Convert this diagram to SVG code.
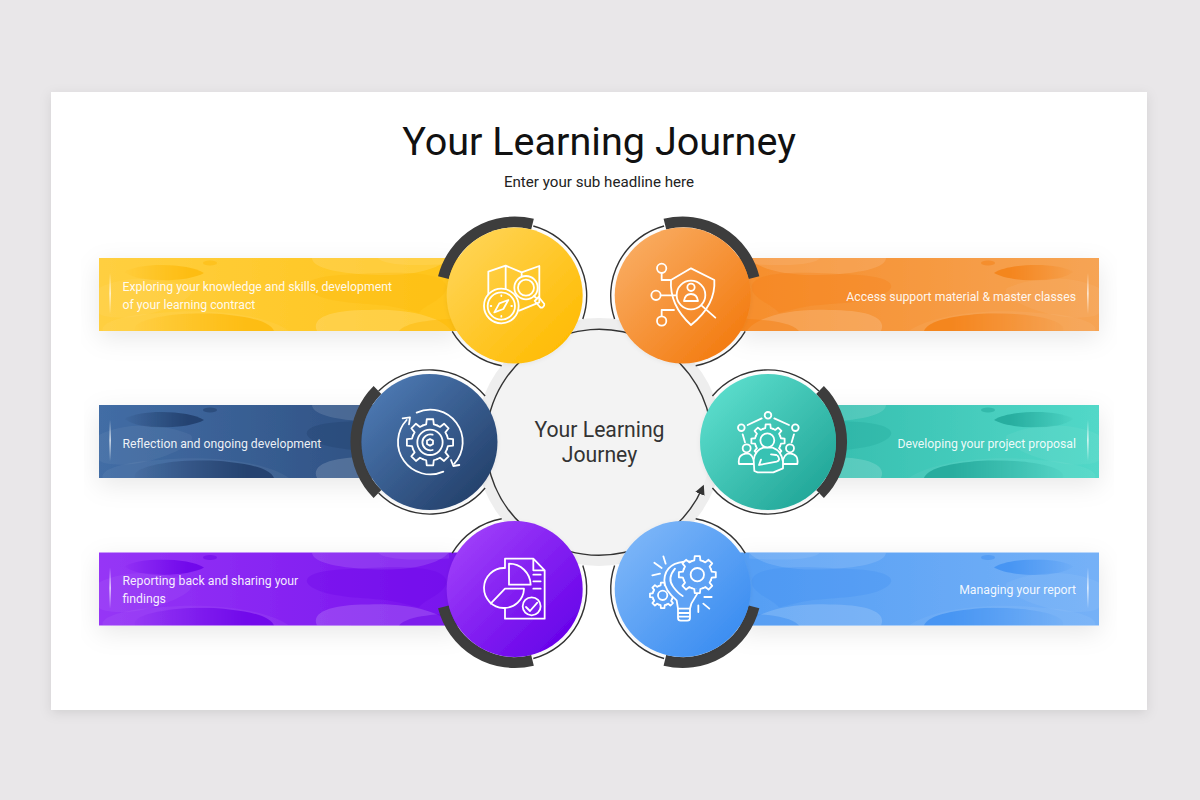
<svg xmlns="http://www.w3.org/2000/svg" xmlns:xlink="http://www.w3.org/1999/xlink" width="1200" height="800" viewBox="0 0 1200 800">
<style>
text{font-family:Roboto,"Liberation Sans",sans-serif}
.t{font-size:12.25px;fill:#fff;fill-opacity:.92}
.e{text-anchor:end}
.ic{fill:none;stroke:#fff;stroke-width:1.8;stroke-linecap:round;stroke-linejoin:round}
.ic *,.ng,.ng *{vector-effect:non-scaling-stroke}
.thin{fill:none;stroke:#333;stroke-width:1.4}
.thick{fill:none;stroke:#3d3d3d;stroke-width:11}
.lt{fill:#fff}
.dk{fill:currentColor}
</style>
<defs>
<filter id="cardS" x="-5%" y="-5%" width="110%" height="110%"><feDropShadow dx="0" dy="3" stdDeviation="6" flood-color="#000" flood-opacity=".1"/></filter>
<filter id="banS" x="-5%" y="-60%" width="110%" height="230%"><feDropShadow dx="0" dy="7" stdDeviation="12" flood-color="#000" flood-opacity=".09"/></filter>
<filter id="cS" x="-20%" y="-20%" width="140%" height="140%"><feDropShadow dx="0" dy="1" stdDeviation="2" flood-color="#000" flood-opacity=".06"/></filter>
<linearGradient id="fadeG"><stop offset="0" stop-color="#fff" stop-opacity=".05"/><stop offset=".8" stop-color="#fff" stop-opacity=".8"/></linearGradient>
<mask id="fade" maskContentUnits="objectBoundingBox"><rect width="1" height="1" fill="url(#fadeG)"/></mask>
<linearGradient id="vl" x1="0" y1="0" x2="0" y2="1"><stop offset="0" stop-color="#fff" stop-opacity="0"/><stop offset=".5" stop-color="#fff"/><stop offset="1" stop-color="#fff" stop-opacity="0"/></linearGradient>
<clipPath id="bc"><rect width="1000" height="73"/></clipPath>
<linearGradient id="gY" x1="0" y1="0" x2="1" y2="1"><stop offset=".1" stop-color="#ffd455"/><stop offset=".9" stop-color="#ffbb00"/></linearGradient>
<linearGradient id="gO" x1="0" y1="0" x2="1" y2="1"><stop offset=".1" stop-color="#f9ac62"/><stop offset=".9" stop-color="#f37a0e"/></linearGradient>
<linearGradient id="gN" x1="0" y1="0" x2="1" y2="1"><stop offset=".1" stop-color="#4c79b3"/><stop offset=".9" stop-color="#233f69"/></linearGradient>
<linearGradient id="gT" x1="0" y1="0" x2="1" y2="1"><stop offset=".1" stop-color="#5cdecd"/><stop offset=".9" stop-color="#20a597"/></linearGradient>
<linearGradient id="gP" x1="0" y1="0" x2="1" y2="1"><stop offset=".1" stop-color="#a040fa"/><stop offset=".9" stop-color="#6600e9"/></linearGradient>
<linearGradient id="gB" x1="0" y1="0" x2="1" y2="1"><stop offset=".1" stop-color="#7db6f8"/><stop offset=".9" stop-color="#398cf1"/></linearGradient>
<linearGradient id="bY" x1="0" y1="0" x2="1" y2="0"><stop offset="0" stop-color="#ffcf40"/><stop offset="1" stop-color="#ffc41a"/></linearGradient>
<linearGradient id="bO" x1="1" y1="0" x2="0" y2="0"><stop offset="0" stop-color="#f6a454"/><stop offset="1" stop-color="#f68e2c"/></linearGradient>
<linearGradient id="bN" x1="0" y1="0" x2="1" y2="0"><stop offset="0" stop-color="#426da5"/><stop offset="1" stop-color="#2e4f80"/></linearGradient>
<linearGradient id="bT" x1="1" y1="0" x2="0" y2="0"><stop offset="0" stop-color="#52d8c8"/><stop offset="1" stop-color="#34bcad"/></linearGradient>
<linearGradient id="bP" x1="0" y1="0" x2="1" y2="0"><stop offset="0" stop-color="#9636f6"/><stop offset="1" stop-color="#7812ee"/></linearGradient>
<linearGradient id="bB" x1="1" y1="0" x2="0" y2="0"><stop offset="0" stop-color="#75b1f7"/><stop offset="1" stop-color="#559ef4"/></linearGradient>
<g id="blobs" clip-path="url(#bc)">
<path class="lt" opacity=".05" d="M0 30C30 15 70 20 92 30C100 40 60 55 40 58C20 62 0 58 0 55Z"/>
<path class="lt" opacity=".12" d="M213 0C213 10 240 16 280 17C310 18 340 12 350 0Z"/>
<path class="lt" opacity=".08" d="M279 0C285 8 320 8 350 6V0Z"/>
<path class="dk" opacity=".3" d="M240 17C280 15 340 10 347 27C350 40 325 47 320 55L300 50C280 45 250 47 225 40C200 32 200 20 240 17Z"/>
<path class="lt" opacity=".16" d="M218 73C212 60 230 52 270 52C310 50 345 60 352 73Z"/>
<path class="dk" opacity=".5" d="M300 73C310 62 340 62 365 60V73Z"/>
<path class="dk" mask="url(#fade)" d="M26 14C40 4 90 5 105 15C90 24 40 26 26 14Z"/>
<ellipse class="dk" opacity=".5" cx="111" cy="5" rx="7" ry="2.5"/>
<path class="lt" opacity=".05" d="M4 73C0 66 20 57 60 55C110 50 165 56 190 73Z"/>
<path class="dk" mask="url(#fade)" d="M36 73C30 58 100 52 130 57C160 60 172 66 175 73Z"/>
<rect x="10.5" y="15" width="1.2" height="41" fill="url(#vl)"/>
</g>
<g id="ringA"><path class="thin" d="M18.6 -69.5A72 72 0 0 1 68.1 23.4"/><path class="thin" d="M-13 70.2A72 72 0 0 1 -62.5 35.8"/><path class="thick" d="M-71.3 -17.9A73.5 73.5 0 0 1 17.8 -71.3"/></g>
<g id="ringB"><path class="thin" d="M-50.9 -50.9A72 72 0 0 1 55.6 -46"/><path class="thin" d="M55.6 46A72 72 0 0 1 -50.9 50.9"/><path class="thick" d="M-52 -52A73.5 73.5 0 0 0 -52 52"/></g>
<path id="tooth" class="ng" d="M-21 -50.8L-11.4 -53.8L-9.7 -69.3L9.7 -69.3L11.4 -53.8L21 -50.8"/>
<g id="gear" class="ng"><circle r="52" stroke="none"/><use href="#tooth"/><use href="#tooth" transform="rotate(45)"/><use href="#tooth" transform="rotate(90)"/><use href="#tooth" transform="rotate(135)"/><use href="#tooth" transform="rotate(180)"/><use href="#tooth" transform="rotate(225)"/><use href="#tooth" transform="rotate(270)"/><use href="#tooth" transform="rotate(315)"/></g>
<marker id="arrow" markerUnits="userSpaceOnUse" markerWidth="12" markerHeight="12" refX="8" refY="5" orient="auto"><path d="M0 0L10 5L0 10Z" fill="#333"/></marker>
</defs>

<rect width="1200" height="800" fill="#e9e7e9"/>
<rect x="51" y="92" width="1096" height="618" fill="#fff" filter="url(#cardS)"/>
<text x="599" y="155" font-size="39.6" text-anchor="middle" fill="#111">Your Learning Journey</text>
<text x="599" y="187" font-size="15.15" text-anchor="middle" fill="#222">Enter your sub headline here</text>

<g id="node-center">
<circle cx="599" cy="442" r="124" fill="#eeeeee"/>
<circle cx="599" cy="442" r="113" fill="#f3f3f3"/>
<text x="599.5" y="437" font-size="21.2" text-anchor="middle" fill="#333">Your Learning</text>
<text x="599.5" y="462" font-size="21.2" text-anchor="middle" fill="#333">Journey</text>
</g>

<g id="connectors">
<path class="thin" marker-end="url(#arrow)" d="M709.8 420A113 113 0 1 0 703 486.5"/>
</g>

<g id="node-1">
<rect x="99" y="258" width="360" height="73" fill="url(#bY)" filter="url(#banS)"/>
<use href="#blobs" transform="translate(99 258)" style="color:#fdb90a"/>
<use href="#ringA" transform="translate(514.7 295.5)"/>
<circle cx="514.7" cy="295.5" r="68" fill="url(#gY)" filter="url(#cS)"/>
<g class="ic" transform="translate(440 215) scale(.3333)">
<path d="M145 245V170L197 152L245 172L298 153V262L238 287M197 152V228M245 172V190"/>
<circle cx="258" cy="218" r="35" fill="#ffc82c"/><circle cx="258" cy="218" r="24"/>
<path d="M282 243L290 250M284 258L296 246L313 267Q314 272 308 277Q303 279 300 276Z"/>
<circle cx="184" cy="273" r="52" fill="#ffc625"/><circle cx="184" cy="273" r="41"/>
<path d="M205 255L190 282L163 292L178 265Z"/>
<path d="M184 241V243M184 303V305M152 273H154M214 273H216"/>
</g>
<text class="t" x="122.5" y="291">Exploring your knowledge and skills, development</text>
<text class="t" x="122.5" y="309.3">of your learning contract</text>
</g>

<g id="node-2">
<rect x="739" y="258" width="360" height="73" fill="url(#bO)" filter="url(#banS)"/>
<use href="#blobs" transform="translate(1099 258) scale(-1 1)" style="color:#f47f13"/>
<use href="#ringA" transform="translate(682.7 295.5) scale(-1 1)"/>
<circle cx="682.7" cy="295.5" r="68" fill="url(#gO)" filter="url(#cS)"/>
<g class="ic" transform="translate(610 215) scale(.3333)">
<circle cx="155" cy="160" r="14"/><circle cx="138" cy="241" r="14"/><circle cx="155" cy="318" r="14"/>
<path d="M155 175V195H182M152 241H198M155 303V285H192"/>
<path d="M243 160L183 195Q178 270 243 330Q318 270 313 195Z"/>
<circle cx="243" cy="240" r="43" fill="#f69237"/>
<circle cx="243" cy="217" r="11"/><path d="M222 258Q225 237 243 237Q261 237 264 258Z"/>
<path d="M275 272L316 308"/>
</g>
<text class="t e" x="1076" y="300.5">Access support material &amp; master classes</text>
</g>

<g id="node-3">
<rect x="99" y="405" width="300" height="73" fill="url(#bN)" filter="url(#banS)"/>
<use href="#blobs" transform="translate(99 405)" style="color:#1e3a66"/>
<use href="#ringB" transform="translate(429.5 442)"/>
<circle cx="429.5" cy="442" r="68" fill="url(#gN)" filter="url(#cS)"/>
<g class="ic" transform="translate(350 365) scale(.3333)">
<use href="#gear" transform="translate(240 232)"/>
<circle cx="240" cy="232" r="38"/><path d="M248 209A24 24 0 1 0 248 255"/>
<path d="M240 222L249 227V237L240 242L231 237V227Z"/>
<path d="M200 143A97 97 0 0 1 313 296M303 285L310 303L328 300"/>
<path d="M280 320A97 97 0 0 1 170 165M158 160L180 157L177 178"/>
</g>
<text class="t" x="122.5" y="447.5">Reflection and ongoing development</text>
</g>

<g id="node-4">
<rect x="799" y="405" width="300" height="73" fill="url(#bT)" filter="url(#banS)"/>
<use href="#blobs" transform="translate(1099 405) scale(-1 1)" style="color:#1fa597"/>
<use href="#ringB" transform="translate(768 442) scale(-1 1)"/>
<circle cx="768" cy="442" r="68" fill="url(#gT)" filter="url(#cS)"/>
<g class="ic" transform="translate(695 365) scale(.3333)">
<circle cx="219" cy="151" r="10"/><circle cx="139" cy="188" r="10"/><circle cx="301" cy="188" r="10"/>
<path d="M158 180L200 160M238 160L282 180M143 208L150 232M297 208L290 232"/>
<use href="#gear" transform="translate(219 228) scale(.72)" fill="#3ac5b6"/>
<circle cx="155" cy="250" r="12"/><circle cx="285" cy="250" r="12"/>
<path fill="#3ac5b6" d="M178 297H132Q127 268 155 265Q175 265 178 297ZM262 297H307Q312 268 285 265Q265 265 262 297Z"/>
<path fill="#37c2b3" d="M178 318L176 285Q180 255 205 248H233Q260 258 264 290V310L235 322L188 322Z"/>
<circle cx="217" cy="226" r="21" fill="#39c4b5"/>
<path d="M192 300L198 284M192 300L245 290Q258 286 248 272M228 268L244 270"/>
</g>
<text class="t e" x="1076" y="447.5">Developing your project proposal</text>
</g>

<g id="node-5">
<rect x="99" y="552.5" width="360" height="73" fill="url(#bP)" filter="url(#banS)"/>
<use href="#blobs" transform="translate(99 552.5)" style="color:#6a00e8"/>
<use href="#ringA" transform="translate(514.7 589) scale(1 -1)"/>
<circle cx="514.7" cy="589" r="68" fill="url(#gP)" filter="url(#cS)"/>
<g class="ic" transform="translate(440 512) scale(.3333)">
<path d="M195 168V140H280L314 175V320H195V290M280 140V175H314"/>
<path d="M207 155V218H272A65 65 0 0 0 207 155Z"/>
<path d="M280 188H302M280 208H302M280 230H302"/>
<path d="M193 168A60 60 0 1 0 252 230H195L152 275"/>
<circle cx="275" cy="283" r="27" fill="#7f20f1"/>
<path d="M258 285L270 297L292 272"/>
</g>
<text class="t" x="122.5" y="584.7">Reporting back and sharing your</text>
<text class="t" x="122.5" y="603">findings</text>
</g>

<g id="node-6">
<rect x="739" y="552.5" width="360" height="73" fill="url(#bB)" filter="url(#banS)"/>
<use href="#blobs" transform="translate(1099 552.5) scale(-1 1)" style="color:#3f90f2"/>
<use href="#ringA" transform="translate(682.7 589) scale(-1 -1)"/>
<circle cx="682.7" cy="589" r="68" fill="url(#gB)" filter="url(#cS)"/>
<g class="ic" transform="translate(610 512) scale(.3333)">
<use href="#gear" transform="translate(158 250) scale(.55)" fill="#5ea2f5"/>
<circle cx="158" cy="250" r="14"/>
<path fill="#5ea2f5" d="M240 148Q165 148 163 205Q163 235 200 265L204 290H240L244 275L262 245Z"/>
<path d="M195 170Q170 200 190 225Q205 245 218 252"/>
<path d="M204 290V318Q204 326 212 326H232Q240 326 240 318V290M204 303H240M204 314H240"/>
<use href="#gear" transform="translate(262 188) scale(.8)" fill="#5ea2f5"/>
<circle cx="262" cy="188" r="20"/>
<path d="M160 133L167 155M133 152L155 168M127 190L150 185M283 255H305M280 275L298 290M265 280V300"/>
</g>
<text class="t e" x="1076" y="594">Managing your report</text>
</g>
</svg>
